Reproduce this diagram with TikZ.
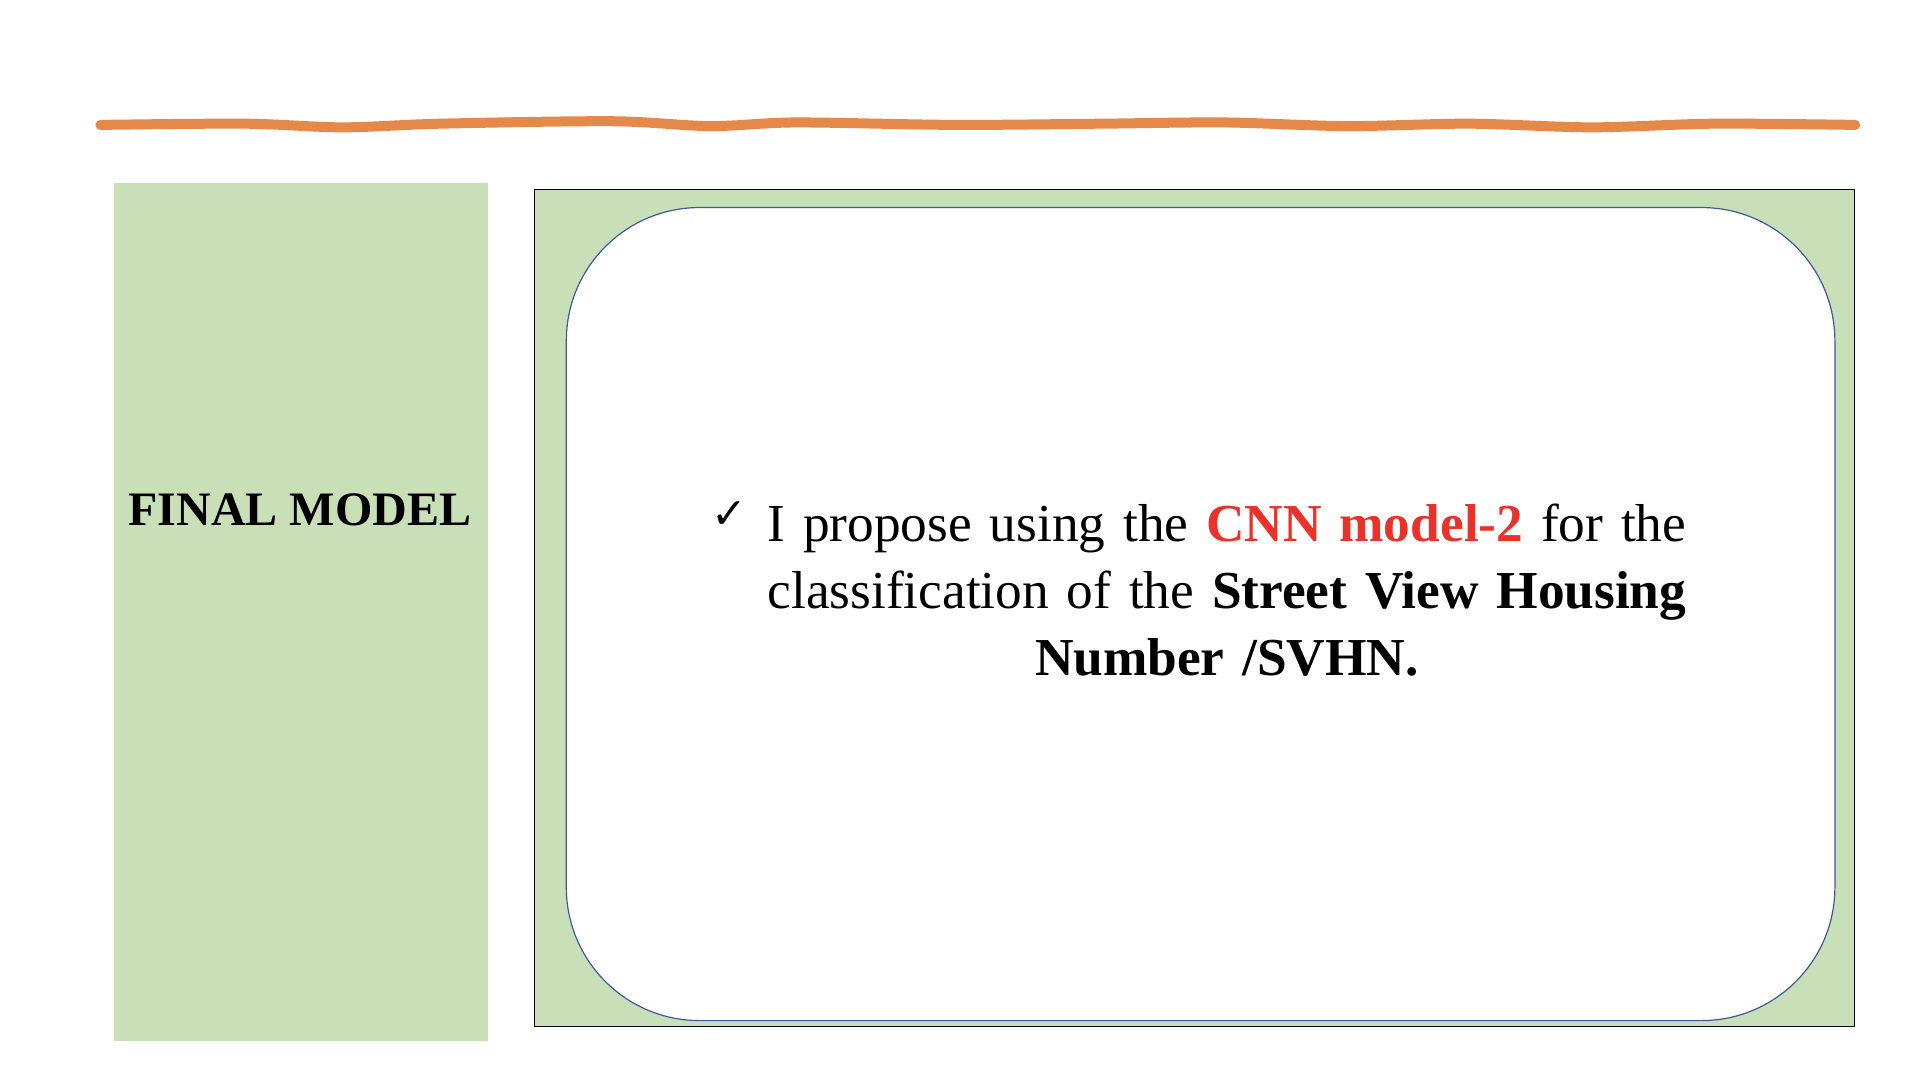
\documentclass[tikz,border=0pt]{standalone}
\usepackage{fontspec}
\setmainfont{Liberation Serif}
\newfontfamily\symfont{DejaVu Sans}
\definecolor{pgreen}{HTML}{C9DFB8}
\definecolor{porange}{HTML}{E5894A}
\definecolor{pblue}{HTML}{3F5A9C}
\definecolor{pred}{HTML}{E8322A}
\tikzset{
  panel/.style={fill=pgreen, draw=none},
  boxed/.style={fill=pgreen, draw=black, line width=0.8pt},
  inner/.style={fill=white, draw=pblue, line width=0.9pt, rounded corners=100pt},
}
\begin{document}
\begin{tikzpicture}[x=0.918pt, y=-0.918pt]
\useasboundingbox (0,0) rectangle (1568,882);
\draw[porange, line width=7.5pt, line cap=round] plot[smooth] coordinates
 {(82,102) (200,101) (280,104) (360,101) (500,99) (580,103) (650,100) (780,102) (900,101) (1000,100) (1100,103) (1200,101) (1300,104) (1400,101) (1515,102)};
\node[panel, minimum width=305*0.918pt, minimum height=701*0.918pt, anchor=north west] (left) at (93,149) {};
\node[font=\bfseries\fontsize{36}{40}\selectfont] (title) at (245,416) {FINAL MODEL};
\node[boxed, minimum width=1078*0.918pt, minimum height=684*0.918pt, anchor=north west] (right) at (436,154) {};
\node[inner, minimum width=1036*0.918pt, minimum height=664*0.918pt, anchor=north west] (card) at (462,169) {};
\node[font=\fontsize{40}{50}\selectfont, align=center, text width=740pt, inner sep=0pt] (body) at (1002,482)
 {I propose using the \textcolor{pred}{\textbf{CNN model-2}} for the\\
  classification of the \textbf{Street View Housing}\\
  \textbf{Number /SVHN.}};
\node[font=\symfont\fontsize{32}{36}\selectfont] (check) at (596,421) {✓};
\end{tikzpicture}
\end{document}
